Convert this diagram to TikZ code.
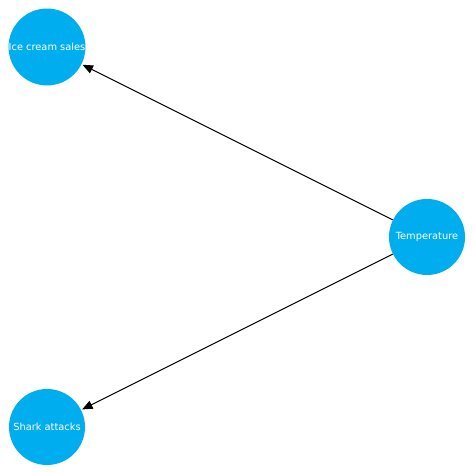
\documentclass[tikz,border=0pt]{standalone}
\usepackage{fontspec}
\setmainfont{DejaVu Sans}
\usetikzlibrary{arrows.meta}
\definecolor{nodecyan}{RGB}{0,174,239}

\begin{document}
\begin{tikzpicture}[
  var/.style={circle, fill=nodecyan, draw=none, minimum size=1.52cm, inner sep=0pt, text=white, font=\fontsize{5.6}{6.5}\selectfont},
  arrow/.style={line width=0.6pt, -{Triangle[length=0.21cm,width=0.17cm]}, shorten >=0.5pt}
]
\useasboundingbox (0,0) rectangle (9.48,9.48);
\node (ice) [var] at (0.94,8.54) {Ice cream sales};
\node (temp) [var] at (8.54,4.74) {Temperature};
\node (shark) [var] at (0.94,0.94) {Shark attacks};

\draw [arrow] (temp) -- (ice);
\draw [arrow] (temp) -- (shark);
\end{tikzpicture}
\end{document}
